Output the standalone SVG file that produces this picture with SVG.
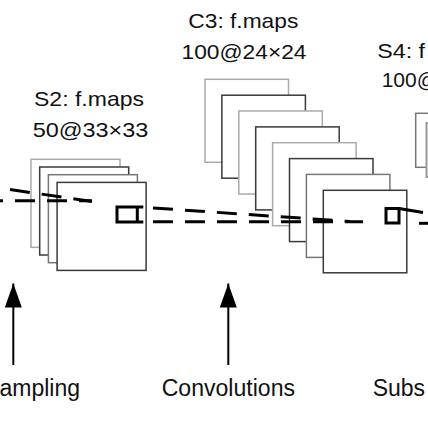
<svg xmlns="http://www.w3.org/2000/svg" width="428" height="428" viewBox="0 0 428 428">
  <style>
    .lbl { font-family: "Liberation Sans", Arial, sans-serif; font-size: 21px; fill: #111; }
    .cap { font-family: "Liberation Sans", Arial, sans-serif; font-size: 23px; fill: #111; }
    .map { fill: #fff; stroke-width: 1.5; }
    .lt { stroke: #aaa; }
    .md { stroke: #777; }
    .dk { stroke: #3a3a3a; }
    .dash { fill: none; stroke: #000; stroke-width: 3; stroke-dasharray: 20 12; }
    .box { fill: none; stroke: #000; stroke-width: 3; }
    .arr { stroke: #000; stroke-width: 2; }
  </style>
  <defs>
    <marker id="head" markerUnits="userSpaceOnUse" markerWidth="26" markerHeight="18" refX="0" refY="0" viewBox="-25 -9 26 18" orient="auto">
      <polygon points="0,0 -24,-8.5 -24,8.5" fill="#000"/>
    </marker>
  </defs>
  <rect width="428" height="428" fill="#fff"/>

  <!-- S2 feature maps -->
  <g id="s2">
    <rect class="map lt" x="31" y="159.3" width="89" height="88"/>
    <rect class="map dk" x="39.7" y="167" width="89" height="88"/>
    <rect class="map md" x="48.4" y="174.7" width="89" height="88"/>
    <rect class="map dk" x="57.1" y="182.4" width="89" height="88"/>
    <text class="lbl" x="89" y="106" text-anchor="middle" textLength="110" lengthAdjust="spacingAndGlyphs">S2: f.maps</text>
    <text class="lbl" x="90.5" y="136.5" text-anchor="middle" textLength="115.7" lengthAdjust="spacingAndGlyphs">50@33×33</text>
  </g>

  <!-- C3 feature maps -->
  <g id="c3">
    <rect class="map lt" x="205" y="79.3" width="83.5" height="83"/>
    <rect class="map dk" x="221.9" y="95.2" width="83.5" height="83"/>
    <rect class="map lt" x="238.8" y="111" width="83.5" height="83"/>
    <rect class="map dk" x="255.7" y="126.9" width="83.5" height="83"/>
    <rect class="map lt" x="272.6" y="142.7" width="83.5" height="83"/>
    <rect class="map dk" x="289.5" y="158.6" width="83.5" height="83"/>
    <rect class="map md" x="306.4" y="174.4" width="83.5" height="83"/>
    <rect class="map dk" x="323.3" y="190.3" width="83.5" height="82.5"/>
    <text class="lbl" x="243.3" y="28" text-anchor="middle" textLength="110" lengthAdjust="spacingAndGlyphs">C3: f.maps</text>
    <text class="lbl" x="244" y="59" text-anchor="middle" textLength="125" lengthAdjust="spacingAndGlyphs">100@24×24</text>
  </g>

  <!-- S4 feature maps (cut off at right edge) -->
  <g id="s4">
    <rect class="map md" x="415.7" y="113.3" width="40" height="54"/>
    <rect x="426.5" y="123" width="40" height="54" fill="#fff" stroke="#999" stroke-width="2"/>
    <text class="lbl" x="377.3" y="58.3" textLength="47.7" lengthAdjust="spacingAndGlyphs">S4: f</text>
    <text class="lbl" x="381.7" y="86.7">100@</text>
  </g>

  <!-- connectors -->
  <g id="connectors">
    <!-- from previous layer into S2 -->
    <line class="dash" x1="10" y1="189.5" x2="92" y2="201.5" stroke-dasharray="20 12"/>
    <line class="dash" x1="-17" y1="200.8" x2="92" y2="200.8" stroke-dasharray="32 11 19 12 18 20"/>
    <!-- S2 receptive box -->
    <path class="box" d="M143.3,207 H117 V222 H143.3 M137.3,207 V222"/>
    <!-- S2 to C3 -->
    <line class="dash" x1="153" y1="208" x2="350" y2="221.5"/>
    <line class="dash" x1="153" y1="221.7" x2="363" y2="221.7"/>
    <!-- C3 receptive box -->
    <path class="box" d="M399,208.5 H386 V223 H399 Z"/>
    <line class="box" x1="399" y1="208.5" x2="423" y2="212.5"/>
    <line class="box" x1="419" y1="223.3" x2="430" y2="223.3"/>
    <!-- arrows -->
    <line class="arr" x1="13.3" y1="365" x2="13.3" y2="283.5" marker-end="url(#head)"/>
    <line class="arr" x1="228.3" y1="365" x2="228.3" y2="283.5" marker-end="url(#head)"/>
  </g>

  <!-- bottom captions -->
  <text class="cap" x="80" y="396" text-anchor="end">ampling</text>
  <text class="cap" x="161.7" y="396" textLength="133.3" lengthAdjust="spacingAndGlyphs">Convolutions</text>
  <text class="cap" x="372.7" y="396">Subs</text>
</svg>
